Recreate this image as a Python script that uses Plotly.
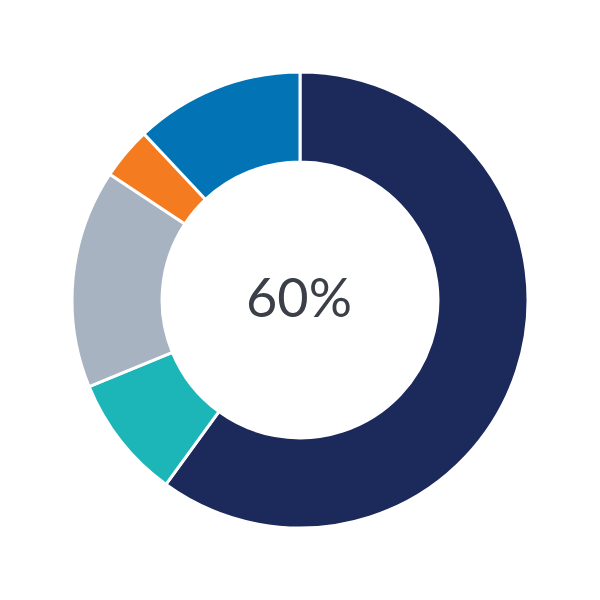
import plotly.graph_objects as go

labels = ["A", "B", "C", "D", "E"]
values = [60.0, 8.8, 15.5, 3.7, 12.0]
colors = ["#1c2a5b", "#1db6b8", "#a8b3c2", "#f47b20", "#0274b6"]
center_label = "60%"

# page body has an 8px default margin; shift the donut to compensate
cx, cy, r = 292 / 600, 308 / 600, 228 / 600

fig = go.Figure(go.Pie(
    labels=labels,
    values=values,
    hole=0.605,
    sort=False,
    direction="clockwise",
    rotation=0,
    marker=dict(colors=colors, line=dict(color="white", width=3)),
    textinfo="none",
    hoverinfo="label+percent",
    domain=dict(x=[cx - r, cx + r], y=[cy - r, cy + r]),
    showlegend=False,
))

fig.add_annotation(
    text=center_label, x=cx - 1 / 600, y=cy + 4 / 600, xref="paper", yref="paper",
    showarrow=False, font=dict(family="Lato", size=54, color="#3b4048"),
)

fig.update_layout(
    width=600, height=600,
    margin=dict(l=0, r=0, t=0, b=0),
    paper_bgcolor="white", plot_bgcolor="white",
)

fig.write_html("out.html")
